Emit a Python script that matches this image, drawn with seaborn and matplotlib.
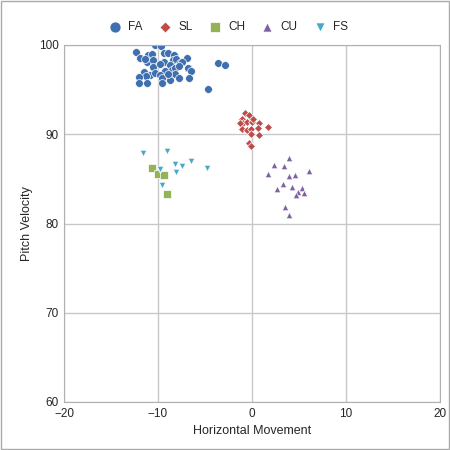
import pandas as pd
import matplotlib.pyplot as plt
import seaborn as sns

# pitch data
fa_x = [-12.3, -10.3, -9.7, -11.1, -10.6, -11.2, -11.9, -11.4, -10.5, -9.4, -8.9, -8.3, -9.4, -8.4, -8.1,
        -6.9, -7.7, -7.4, -8.7, -8.5, -8.2, -9.3, -10.5, -9.8, -11.5, -10.9, -10.3, -9.8, -11.3, -12.0,
        -12.0, -9.6, -8.2, -6.8, -6.5, -6.7, -7.8, -8.7, -9.6, -11.2, -8.9, -7.8, -3.6, -2.9, -4.7]
fa_y = [99.2, 100.0, 99.9, 98.9, 99.0, 98.1, 98.5, 98.4, 98.3, 99.1, 99.1, 98.9, 98.1, 98.3, 98.4,
        98.5, 98.0, 98.1, 97.8, 97.2, 97.4, 97.1, 97.5, 97.9, 97.0, 96.6, 96.9, 96.6, 96.5, 96.4,
        95.7, 96.3, 96.8, 97.4, 97.1, 96.3, 96.3, 96.1, 95.7, 95.7, 96.8, 97.6, 98.0, 97.8, 95.1]
sl_x = [-0.7, -0.3, -1.1, -1.0, -0.5, 0.0, 0.7, 1.7, -1.1, -0.5, -0.1, 0.6, -0.1, 0.7, -0.3, -0.1, -1.3, 0.1]
sl_y = [92.4, 92.2, 91.7, 91.3, 91.4, 91.4, 91.3, 90.8, 90.6, 90.5, 90.6, 90.7, 90.0, 89.9, 89.0, 88.7, 91.3, 91.7]
ch_x = [-10.6, -10.0, -9.4, -9.0]
ch_y = [86.2, 85.5, 85.4, 83.3]
cu_x = [3.9, 2.3, 3.4, 1.7, 3.9, 4.6, 6.1, 3.3, 2.7, 4.3, 5.3, 4.9, 5.5, 4.7, 3.5, 3.9]
cu_y = [87.3, 86.6, 86.4, 85.5, 85.3, 85.4, 85.9, 84.4, 83.9, 84.1, 84.0, 83.5, 83.4, 83.2, 81.8, 81.0]
fs_x = [-11.6, -9.0, -8.2, -7.4, -8.1, -6.5, -4.8, -9.8, -9.6, -9.8]
fs_y = [87.9, 88.1, 86.7, 86.4, 85.8, 87.0, 86.2, 86.0, 84.3, 86.1]

pitch_order = ['FA', 'SL', 'CH', 'CU', 'FS']
palette = {'FA': '#3f6fae', 'SL': '#be4b48', 'CH': '#93b356', 'CU': '#7d61a0', 'FS': '#48a9c5'}
markers = {'FA': 'o', 'SL': 'D', 'CH': 's', 'CU': '^', 'FS': 'v'}
sizes = {'FA': 32, 'SL': 16, 'CH': 28, 'CU': 22, 'FS': 22}

frames = []
for name, xs, ys in [('FA', fa_x, fa_y), ('SL', sl_x, sl_y), ('CH', ch_x, ch_y),
                     ('CU', cu_x, cu_y), ('FS', fs_x, fs_y)]:
    frames.append(pd.DataFrame({'x': xs, 'y': ys, 'pitch': name}))
df = pd.concat(frames, ignore_index=True)

sns.set_style("white")
plt.rcParams['font.family'] = ['Liberation Sans', 'DejaVu Sans']

fig = plt.figure(figsize=(4.5, 4.5), dpi=100)
ax = fig.add_axes([64 / 450, 48 / 450, 376 / 450, 357 / 450])

for p in pitch_order:
    sub = df[df['pitch'] == p]
    sns.scatterplot(data=sub, x='x', y='y', color=palette[p], marker=markers[p], s=sizes[p],
                    edgecolor='white', linewidth=0.5, label=p, ax=ax)

ax.set_xlim(-20, 20)
ax.set_ylim(60, 100)
ax.set_xticks([-20, -10, 0, 10, 20])
ax.set_yticks([60, 70, 80, 90, 100])
ax.grid(True, color='#c8c8c8', linewidth=1)
ax.set_axisbelow(True)
for s in ax.spines.values():
    s.set_color('#b0b0b0')
ax.tick_params(labelsize=8.5, length=0, pad=4)
ax.set_xlabel('Horizontal Movement', fontsize=9)
ax.set_ylabel('Pitch Velocity', fontsize=9)

ax.legend(loc='lower center', bbox_to_anchor=(0.43, 1.0), ncol=5, frameon=False,
          fontsize=8.5, handletextpad=0.1, columnspacing=0.9, borderaxespad=0.6,
          markerscale=1.4)

fig.patches.append(plt.Rectangle((0.003, 0.003), 0.994, 0.994, transform=fig.transFigure,
                                 fill=False, edgecolor='#aaaaaa', linewidth=1))
fig.savefig('out.png', dpi=100)
